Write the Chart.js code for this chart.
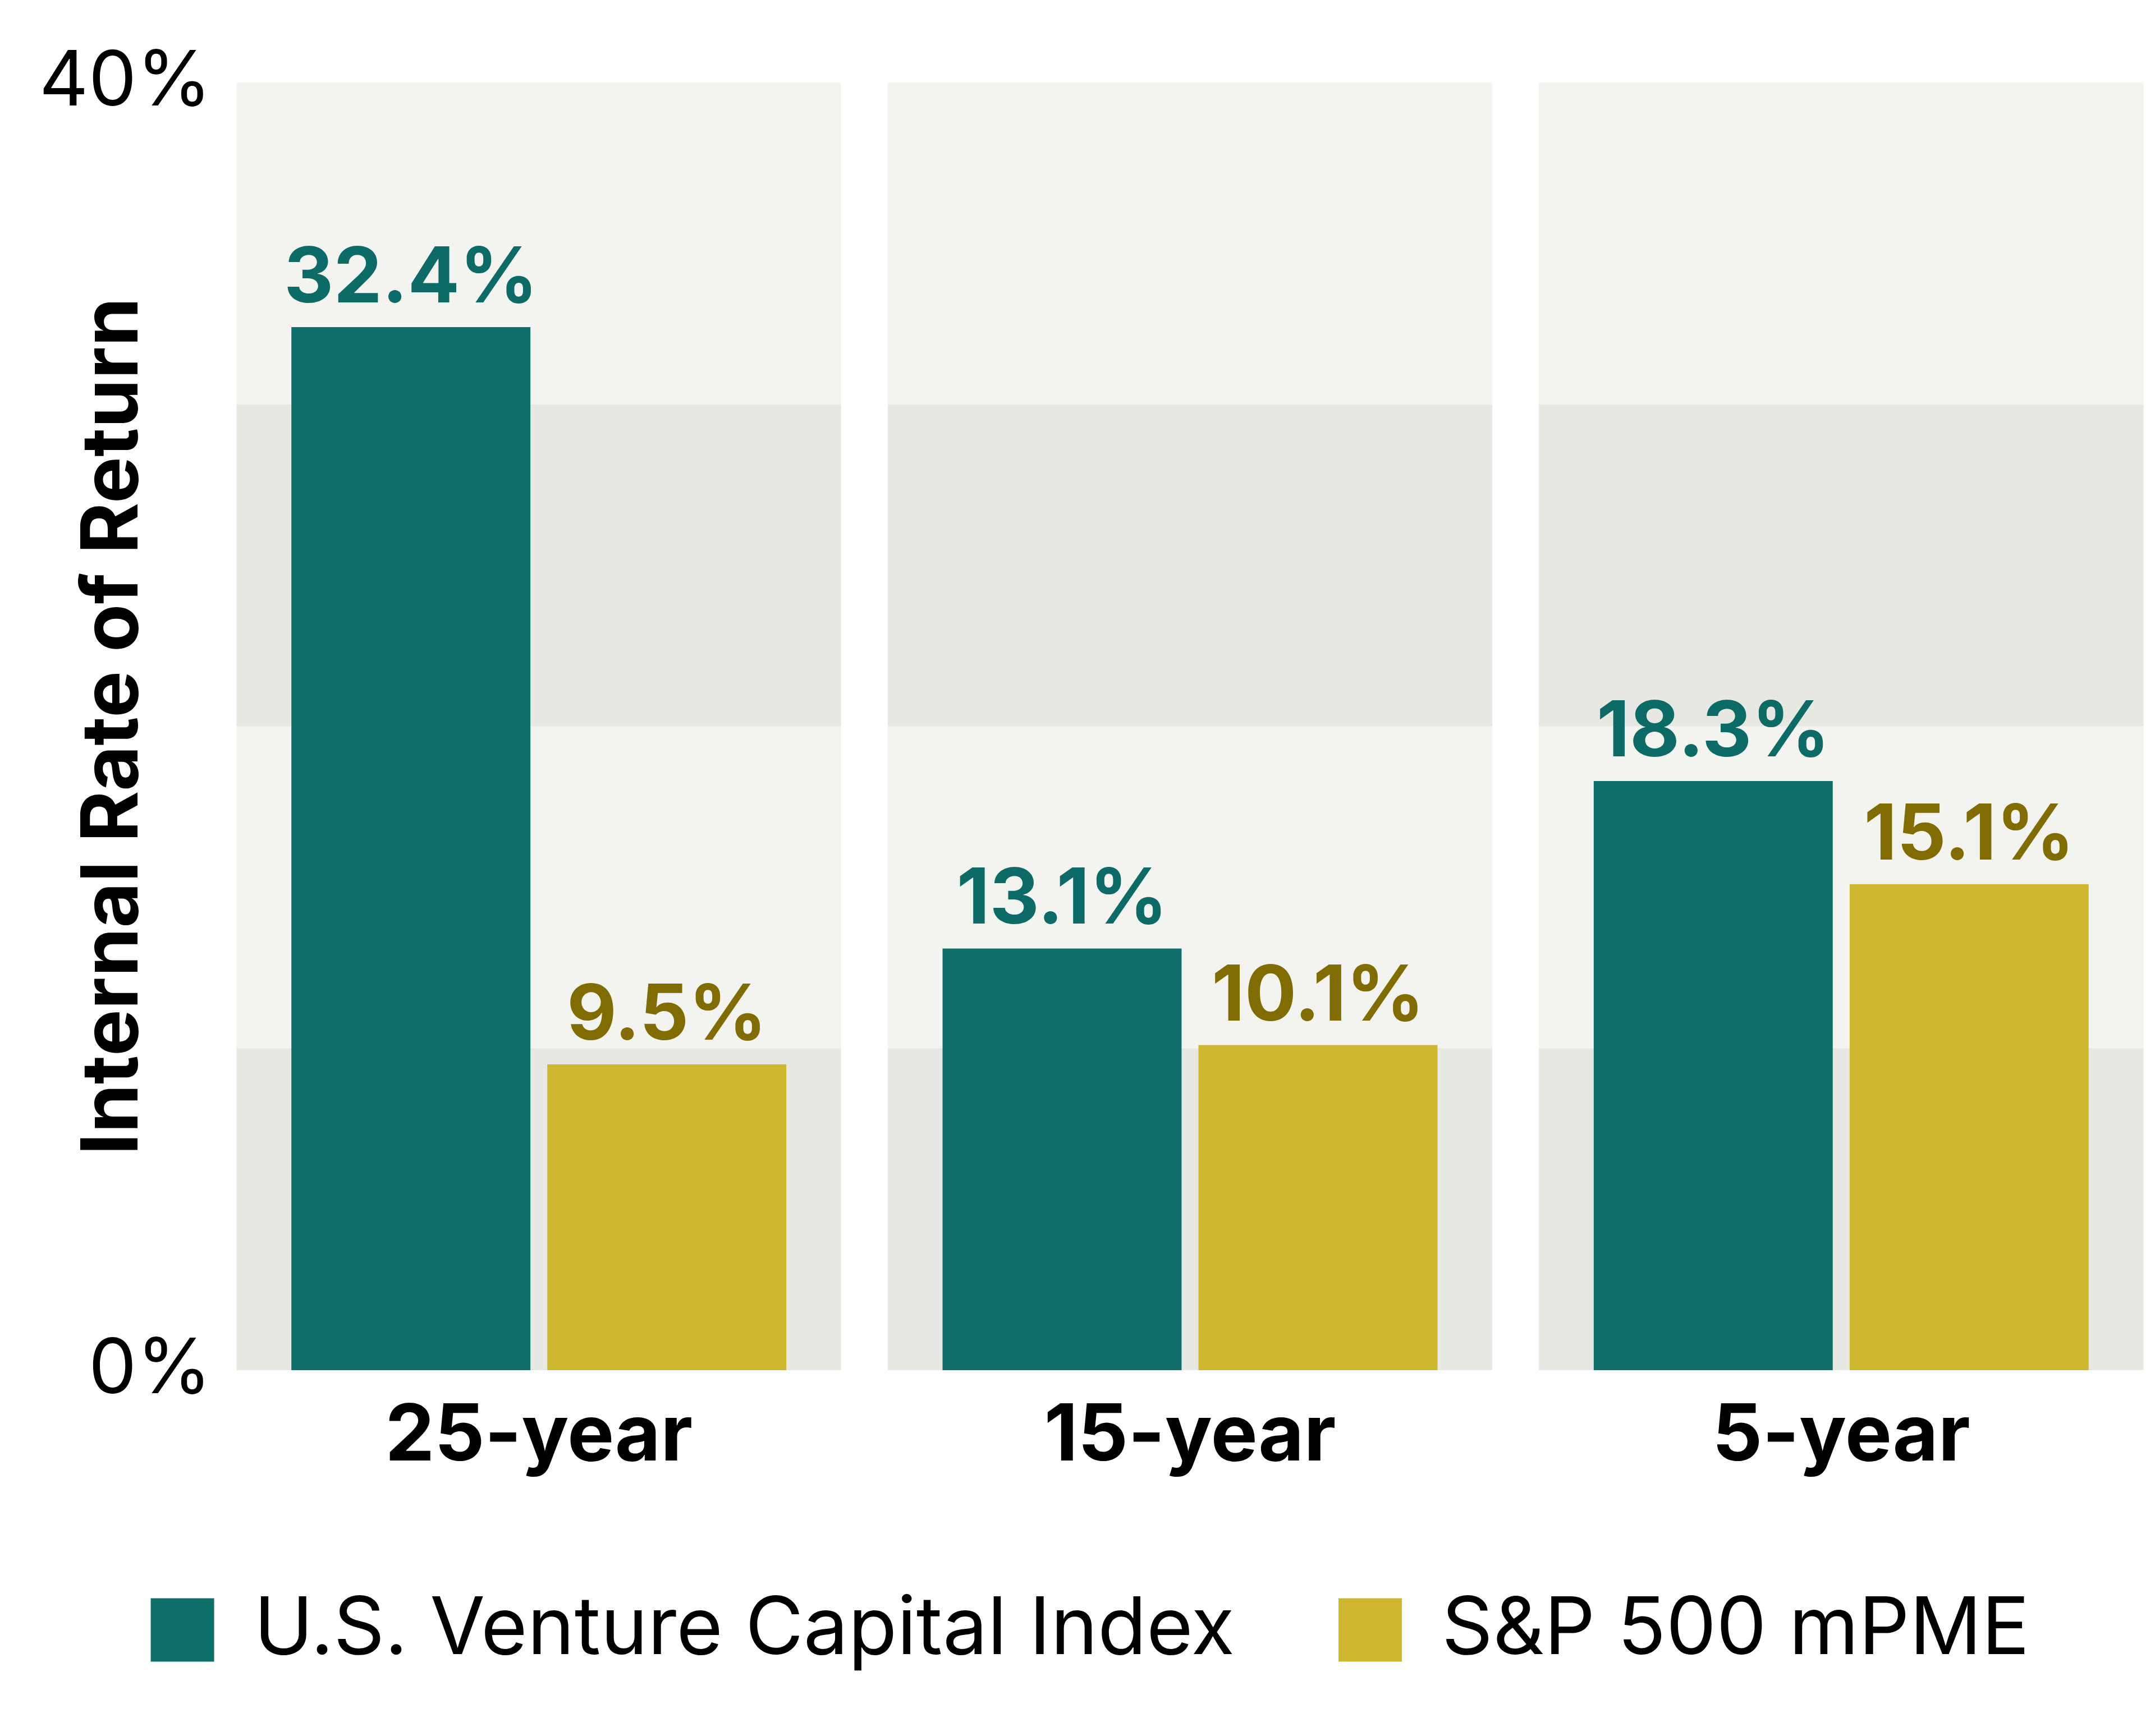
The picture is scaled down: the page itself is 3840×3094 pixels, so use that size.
<!DOCTYPE html>
<html>
<head>
<meta charset="utf-8">
<script src="https://cdn.jsdelivr.net/npm/chart.js@4.4.1/dist/chart.umd.min.js"></script>
<style>
  html, body { margin: 0; padding: 0; background: #ffffff; overflow: hidden; }
  #wrap { width: 3881px; height: 3094px; }
</style>
</head>
<body>
<div id="wrap"><canvas id="irrChart" width="3881" height="3094"></canvas></div>
<script>
var periodLabels = ['25-year', '15-year', '5-year'];
var ventureValues = [32.4, 13.1, 18.3];
var sp500Values = [9.5, 10.1, 15.1];
var seriesNames = ['U.S. Venture Capital Index', 'S&P 500 mPME'];
var yTickLabels = [0, 40];

var TEAL = '#0e6f6b';
var GOLD = '#cfb830';
var TEAL_TEXT = '#0c6b67';
var GOLD_TEXT = '#806c00';
var BAND_LIGHT = '#f3f3ef';
var BAND_DARK = '#e8e8e3';
var FONT = 'Inter, "Noto Sans", sans-serif';

// light/dark striped panels behind each group of bars
var panelPlugin = {
  id: 'panels',
  beforeDatasetsDraw: function(chart) {
    var ctx = chart.ctx;
    var x = chart.scales.x;
    var y = chart.scales.y;
    var cw = (chart.chartArea.right - chart.chartArea.left) / periodLabels.length;
    var half = cw / 2 - 41.5;
    ctx.save();
    for (var i = 0; i < periodLabels.length; i++) {
      var cx = x.getPixelForValue(i);
      for (var k = 0; k < 4; k++) {
        var yBottom = y.getPixelForValue(k * 10);
        var yTop = y.getPixelForValue((k + 1) * 10);
        ctx.fillStyle = k % 2 === 0 ? BAND_DARK : BAND_LIGHT;
        ctx.fillRect(cx - half, yTop, half * 2, yBottom - yTop);
      }
    }
    ctx.restore();
  }
};

// value labels above the bars
var valueLabelPlugin = {
  id: 'valueLabels',
  afterDatasetsDraw: function(chart) {
    var ctx = chart.ctx;
    var colors = [TEAL_TEXT, GOLD_TEXT];
    ctx.save();
    ctx.font = 'bold 137px ' + FONT;
    ctx.textAlign = 'center';
    ctx.textBaseline = 'alphabetic';
    chart.data.datasets.forEach(function(ds, di) {
      var meta = chart.getDatasetMeta(di);
      ctx.fillStyle = colors[di];
      meta.data.forEach(function(bar, i) {
        ctx.fillText(ds.data[i].toFixed(1) + '%', bar.x, bar.y - 44);
      });
    });
    ctx.restore();
  }
};

var ctx = document.getElementById('irrChart').getContext('2d');
new Chart(ctx, {
  type: 'bar',
  data: {
    labels: periodLabels,
    datasets: [{
      label: seriesNames[0],
      data: ventureValues,
      backgroundColor: TEAL,
      borderWidth: 0,
      categoryPercentage: 0.786,
      barPercentage: 0.934
    }, {
      label: seriesNames[1],
      data: sp500Values,
      backgroundColor: GOLD,
      borderWidth: 0,
      categoryPercentage: 0.786,
      barPercentage: 0.934
    }]
  },
  options: {
    responsive: false,
    animation: false,
    layout: {
      padding: { top: 147, left: 24, right: 20, bottom: 108 }
    },
    plugins: {
      tooltip: { enabled: false },
      legend: {
        position: 'bottom',
        labels: {
          color: '#000000',
          font: { family: FONT, size: 142 },
          boxWidth: 113,
          boxHeight: 113,
          padding: 185
        }
      }
    },
    scales: {
      x: {
        grid: { display: false, drawTicks: false },
        border: { display: false },
        ticks: {
          color: '#000000',
          padding: 49,
          font: { family: FONT, size: 140, weight: 'bold', lineHeight: 1 }
        },
        afterFit: function(scale) {
          scale.height = 207;
        }
      },
      y: {
        min: 0,
        max: 40,
        grid: { display: false, drawTicks: false },
        border: { display: false },
        ticks: {
          stepSize: 10,
          padding: 3,
          color: '#000000',
          font: { family: FONT, size: 136 },
          callback: function(value) {
            return yTickLabels.indexOf(value) >= 0 ? value + '%' : '';
          }
        },
        title: {
          display: true,
          text: 'Internal Rate of Return',
          color: '#000000',
          padding: { top: 95, bottom: 0 },
          font: { family: FONT, size: 140, weight: 'bold' }
        },
        afterFit: function(scale) {
          scale.width = 356;
        }
      }
    }
  },
  plugins: [panelPlugin, valueLabelPlugin]
});
</script>
</body>
</html>
